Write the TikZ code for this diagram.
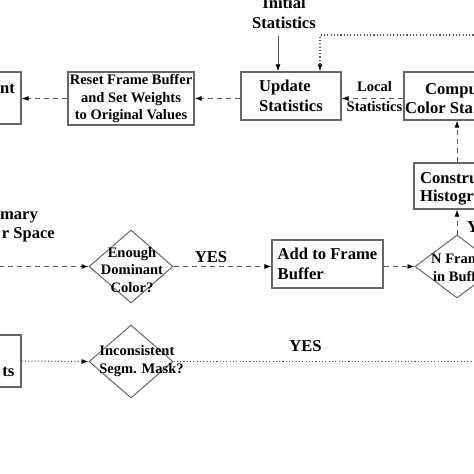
\documentclass[tikz,border=0pt]{standalone}
\usepackage{fontspec}
\setmainfont{Liberation Serif}
\usetikzlibrary{
    arrows.meta,
    shapes.geometric
}

\begin{document}
\begin{tikzpicture}[
    x=1pt, y=-1pt,
    big/.style={font=\fontsize{16.6pt}{20pt}\selectfont\bfseries},
    small/.style={font=\fontsize{14.5pt}{17.5pt}\selectfont\bfseries},
    frag/.style={big, inner sep=0pt},
    flow_box/.style={rectangle, draw=black!60, line width=1.2pt, inner sep=0pt},
    decision/.style={diamond, draw=black!60, line width=1pt, inner sep=0pt, minimum width=84pt},
    arrow/.style={draw=black!65, line width=0.9pt, -{Latex[length=7pt,width=5pt,color=black]}},
    dash_arrow/.style={arrow, dash pattern=on 5pt off 4pt},
    dot_arrow/.style={arrow, line width=1.1pt, dash pattern=on 1.1pt off 2.2pt}
]
\useasboundingbox (0,0) rectangle (474,474);
\clip (0,0) rectangle (474,474);

% top row
\node[flow_box, minimum width=102pt, minimum height=52pt] (dom_box) at (-30,98) {};
\node[frag, anchor=base east] (dom_txt) at (15,93) {nt};
\node[flow_box, small, align=center, minimum width=126pt, minimum height=53pt] (reset_box) at (131,98.5)
    {Reset Frame Buffer\\and Set Weights\\to Original Values};
\node[flow_box, big, align=left, minimum width=100pt, minimum height=48pt] (update_box) at (291,96)
    {Update\\Statistics};
\node[big, align=center] (init_txt) at (284,13) {Initial\\Statistics};
\node[flow_box, minimum width=130pt, minimum height=48pt] (cmp_box) at (469,96) {};
\node[frag, anchor=base west] (cmp_txt_a) at (425,94) {Compu};
\node[frag, anchor=base west] (cmp_txt_b) at (405,113) {Color Sta};
\node[small, align=center] (local_lbl) at (374.5,97) {Local\\[2.5pt]Statistics};

\coordinate (init_in) at ([xshift=-13pt]update_box.north);
\coordinate (fb_in) at ([xshift=29pt]update_box.north);
\coordinate (fb_far) at (490,35);
\draw[arrow, shorten <=4pt] (init_in |- init_txt.south) -- (init_in);
\draw[dot_arrow] (fb_far) -| (fb_in);
\draw[dash_arrow] (cmp_box.west |- reset_box.east) -- (update_box.east |- reset_box.east);
\draw[dash_arrow] (update_box.west |- reset_box.east) -- (reset_box.east);
\draw[dash_arrow] (reset_box.west) -- (dom_box.east |- reset_box.west);

% middle row
\node[flow_box, minimum width=110pt, minimum height=46pt] (cons_box) at (469,186) {};
\node[frag, anchor=base west] (cons_txt_a) at (420,183) {Constru};
\node[frag, anchor=base west] (cons_txt_b) at (420,201) {Histogr};
\node[decision, minimum height=63pt] (nf_dia) at (457,266.5) {};
\node[small, anchor=base west, inner sep=0pt] (nf_txt_a) at (431,263) {N Fram};
\node[small, anchor=base west, inner sep=0pt] (nf_txt_b) at (433,281) {in Buff};
\node[frag, anchor=base west] (nf_yes) at (467,232) {Y};
\draw[dash_arrow] (nf_dia.north) -- (cons_box.south -| nf_dia.north);
\draw[dash_arrow] (cons_box.north -| nf_dia.north) -- (cmp_box.south -| nf_dia.north);

\node[flow_box, big, align=left, minimum width=111pt, minimum height=48pt] (add_box) at (327.5,264)
    {Add to Frame\\Buffer};
\node[decision, minimum height=73pt] (enough_dia) at (131,266.5) {};
\node[small, align=center] (enough_txt) at (132,270) {Enough\\Dominant\\Color?};
\node[big, anchor=base] (enough_yes) at (211,262) {YES};
\node[frag, anchor=base east] (space_txt_a) at (38,219) {mary};
\node[frag, anchor=base east] (space_txt_b) at (55,238) {r Space};
\coordinate (space_out) at (-10,266.5);
\draw[dash_arrow] (space_out) -- (enough_dia.west);
\draw[dash_arrow] (enough_dia.east) -- (add_box.west |- enough_dia.east);
\draw[dash_arrow] (add_box.east |- nf_dia.west) -- (nf_dia.west);

% bottom row
\node[flow_box, minimum width=102pt, minimum height=52pt] (seg_box) at (-30,361) {};
\node[frag, anchor=base east] (seg_txt) at (14.5,376) {ts};
\node[decision, minimum height=73pt] (inc_dia) at (131,361.5) {};
\node[small, align=left] (inc_txt) at (141.5,361) {Inconsistent\\Segm. Mask?};
\node[big, anchor=base] (inc_yes) at (305.5,351) {YES};
\coordinate (inc_out) at (490,361.5);
\draw[dot_arrow] (seg_box.east) -- (inc_dia.west);
\draw[dot_arrow, -] (inc_dia.east) -- (inc_out);

\end{tikzpicture}
\end{document}
